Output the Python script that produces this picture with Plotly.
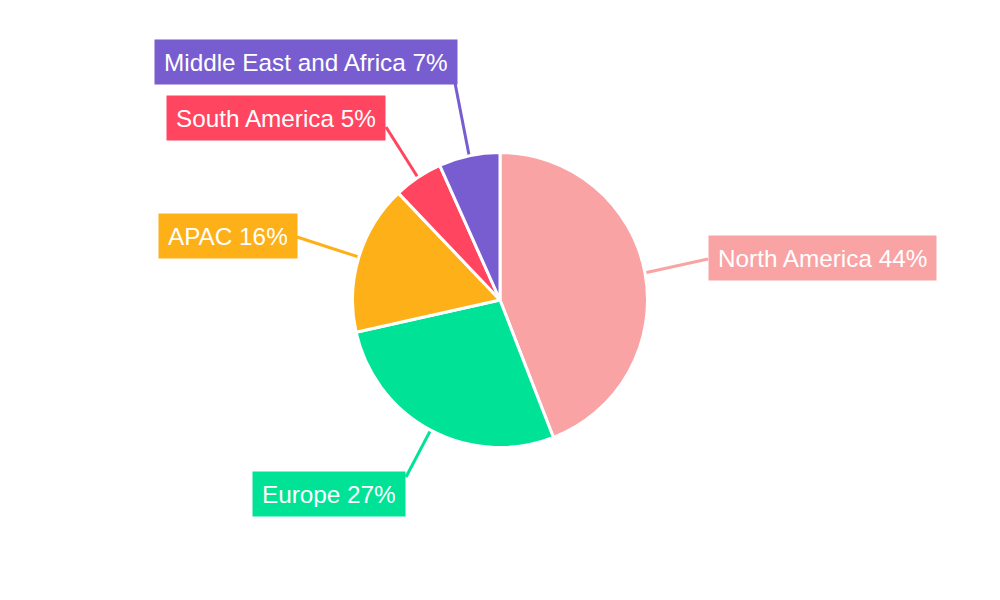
import math
import plotly.graph_objects as go

# ---- data ----
regions = ["North America", "Europe", "APAC", "South America", "Middle East and Africa"]
shares = [44.1, 27.4, 16.4, 5.4, 6.7]
colors = ["#F9A3A4", "#00E396", "#FEB019", "#FF4560", "#775DD0"]

# ---- layout / style (pixel space of the 1000x600 canvas) ----
W, H = 1000, 600
OFF = 8  # page body margin offset
CX, CY, R = 500 - OFF, 300 - OFF, 147.5
LEADER_R = 148
# label box anchor: (x, y, xanchor) and leader end point (reference pixel positions)
label_anchor = [(708, 258, "left"), (406, 494, "right"), (298, 236, "right"),
                (386, 118, "right"), (458, 62, "right")]
leader_end = [(708, 259), (406, 477), (297, 237), (386, 127), (455, 83)]


def px(x):
    return x / W


def py(y):
    return 1 - y / H


fig = go.Figure(go.Pie(
    labels=regions, values=shares, sort=False, direction="clockwise", rotation=0,
    marker=dict(colors=colors, line=dict(color="white", width=3)),
    textinfo="none", hoverinfo="label+percent", showlegend=False,
    domain=dict(x=[px(CX - R), px(CX + R)], y=[py(CY + R), py(CY - R)]),
))

total = sum(shares)
cum = 0.0
shapes, annotations = [], []
for name, v, c, (ax_, ay_, xa), (ex, ey) in zip(regions, shares, colors, label_anchor, leader_end):
    mid = (cum + v / 2) / total * 2 * math.pi
    cum += v
    sx = CX + LEADER_R * math.sin(mid)
    sy = CY - LEADER_R * math.cos(mid)
    shapes.append(dict(type="line", xref="paper", yref="paper",
                       x0=px(sx), y0=py(sy), x1=px(ex - OFF), y1=py(ey - OFF),
                       line=dict(color=c, width=3), layer="below"))
    pct = round(v / total * 100)
    annotations.append(dict(
        xref="paper", yref="paper", x=px(ax_ - OFF), y=py(ay_ - OFF),
        xanchor=xa, yanchor="middle",
        text=f"{name} {pct}%", showarrow=False, bgcolor=c, borderpad=9, height=26,
        font=dict(family="Liberation Sans, Arial, sans-serif", size=24.3, color="white"),
    ))

fig.update_layout(
    width=W, height=H, margin=dict(l=0, r=0, t=0, b=0),
    paper_bgcolor="white", plot_bgcolor="white",
    shapes=shapes, annotations=annotations,
)

fig.write_html("out.html")
